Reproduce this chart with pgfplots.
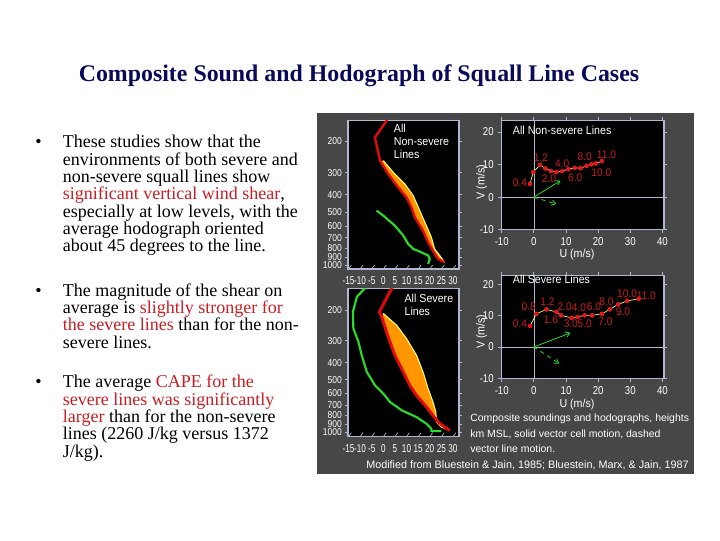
\documentclass[border=0pt]{standalone}
\usepackage{pgfplots}
\pgfplotsset{compat=1.18}
\usepackage{fontspec}
\setmainfont{Liberation Serif}
\setsansfont{Liberation Sans}
\newfontfamily\pf[FakeStretch=0.85]{Liberation Sans}
\newfontfamily\px[FakeStretch=0.72]{Liberation Sans}
\newfontfamily\pl[FakeStretch=0.92]{Liberation Sans}
\usetikzlibrary{arrows.meta}
\definecolor{navy}{RGB}{10,10,90}
\definecolor{hred}{RGB}{200,30,35}
\definecolor{panel}{RGB}{71,71,71}
\definecolor{frm}{RGB}{176,184,208}
\definecolor{sred}{RGB}{225,10,10}
\definecolor{sorange}{RGB}{255,150,0}
\definecolor{syellow}{RGB}{255,255,120}
\definecolor{sgreen}{RGB}{40,220,40}
\definecolor{hodored}{RGB}{225,25,25}
\pgfplotsset{
  panelaxis/.style={
    scale only axis, anchor=south west,
    axis background/.style={fill=black},
    axis line style={frm, line width=0.8pt},
    tick style={frm, line width=0.6pt},
    ticklabel style={font=\pf\fontsize{8.5}{9}\selectfont, text=white},
    /pgf/number format/assume math mode=true,
  },
  skewt/.style={panelaxis,
    xmin=-15.2, xmax=32.6,
    ytick={200,300,400,500,600,700,800,900,1000},
    yticklabels={200,300,400,500,600,700,800,900,1000},
    xtick={-15,-10,...,30},
    tick align=outside, major tick length=2.5pt,
    minor tick num=0,
    xtick style={draw=none},
    xticklabel style={inner xsep=0pt, font=\px\fontsize{8.5}{9}\selectfont},
    yticklabel style={inner ysep=0pt, inner xsep=2pt, font=\pf\fontsize{7.5}{7.5}\selectfont},
  },
  hodo/.style={panelaxis, xmin=-10, xmax=40.5, ymin=-10,
    xtick={-10,0,...,40}, ytick={-10,0,10,20},
    tick align=outside, major tick length=2.5pt,
  },
}
\begin{document}
\begin{tikzpicture}
\fill[white] (0,0) rectangle (540pt,-405pt);
\begin{scope}[x=0.75pt,y=-0.75pt]
\fill[panel] (317,112.7) rectangle (694,474);
\end{scope}

% ---------- top skew-T (non-severe)
\begin{axis}[ymode=log, y dir=reverse, skewt, at={(261pt,-201.75pt)}, width=83.25pt, height=111.2pt, ymin=153, ymax=1050]
\addplot[fill=sorange, draw=none] coordinates {
(-1.4,257) (2.1,305) (6.4,363) (10,414) (12.1,471) (13.6,536) (17.1,638) (19.3,742) (21.4,827) (23.6,921) (26.4,962)
(24.3,882) (22.1,809) (20.7,695) (17.9,572) (15.7,492) (12.9,405) (9.3,348) (4.3,299) (0,257)} -- cycle;
\addplot[syellow, line width=0.8pt] coordinates {
(0,257) (4.3,299) (9.3,348) (12.9,405) (15.7,492) (17.9,572) (20.7,695) (22.1,809) (24.3,882) (26.4,962)};
\addplot[sred, line width=1.8pt] coordinates {
(2.2,140) (1.4,153) (-3.6,190) (-1.4,257) (2.1,305) (6.4,363) (10,414) (12.1,471) (13.6,536) (17.1,638) (19.3,742) (21.4,827) (23.6,921) (26.4,962)};
\addplot[sgreen, line width=1.6pt] coordinates {
(-2.9,492) (0,525) (5,598) (8.6,680) (10.7,758) (12.9,809) (16.4,845) (19.3,882) (20,921) (19.3,983)};
\pgfplotsinvokeforeach{-15,-10,...,30}{\draw[frm, line width=0.5pt] (axis cs:#1,1050) -- ++(2.2pt,3pt);}
\end{axis}

% ---------- bottom skew-T (severe)
\begin{axis}[ymode=log, y dir=reverse, skewt, at={(261pt,-327.5pt)}, width=83.25pt, height=111.3pt, ymin=150, ymax=1062]
\addplot[fill=sorange, draw=none] coordinates {
(-0.7,218) (2.1,285) (5,363) (8.6,452) (11.4,539) (14.3,616) (18.6,718) (21.4,802) (23.6,876) (26.4,936) (28.6,978)
(25,936) (22.9,876) (22.6,767) (21.4,672) (19.3,564) (17.1,452) (14.3,363) (10,291) (5.7,244) (0,209)} -- cycle;
\addplot[syellow, line width=0.8pt] coordinates {
(0,209) (5.7,244) (10,291) (14.3,363) (17.1,452) (19.3,564) (21.4,672) (22.6,767) (22.9,876) (25,936) (28.6,978)};
\addplot[sred, line width=2.2pt] coordinates {
(4.2,140) (3.6,150) (-1.7,205) (-0.7,218) (2.1,285) (5,363) (8.6,452) (11.4,539) (14.3,616) (18.6,718) (21.4,802) (23.6,876) (26.4,936) (28.6,978)};
\addplot[sgreen, line width=1.6pt] coordinates {
(-7.2,140) (-7.9,150) (-11.4,168) (-13.1,205) (-12.9,255) (-10.7,304) (-9.3,363) (-7.1,452) (-3.6,539) (0,602) (2.9,672) (7.9,750) (14.3,820) (18.6,896) (20.7,957) (20.7,987) (25,987)};
\pgfplotsinvokeforeach{-15,-10,...,30}{\draw[frm, line width=0.5pt] (axis cs:#1,1062) -- ++(2.2pt,3pt);}
\end{axis}

% ---------- top hodograph (non-severe)
\begin{axis}[hodo, at={(376.3pt,-172.3pt)}, width=121.7pt, height=82.05pt, ymax=23.6]
\draw[frm, line width=0.4pt] (axis cs:0,-10) -- (axis cs:0,23.6);
\draw[frm, line width=0.4pt] (axis cs:-10,0) -- (axis cs:40.5,0);
\addplot[syellow, line width=0.5pt, mark=*, mark size=1.5pt, mark options={draw=hodored, fill=hodored}] coordinates {
(-1.2,4.1) (-0.2,7.7) (1.9,9.9) (3.6,8.8) (5.3,8.0) (7.0,7.7) (8.8,8.0) (10.7,8.6) (12.7,9.0) (14.5,8.9) (16.4,9.6) (17.9,10.1) (19.3,10.4) (21.2,11.1)};
\addplot[sgreen, line width=0.6pt, -{Straight Barb[length=3pt,width=4pt]}] coordinates {(0,0) (8.3,5.1)};
\addplot[sgreen, line width=0.6pt, dashed, -{Straight Barb[length=3pt,width=4pt]}] coordinates {(0,0) (7,-2.1)};
\begin{scope}[every node/.style={text=hred, font=\pl\fontsize{8.3}{8}\selectfont, inner sep=0pt}]
\node at (axis cs:-4.3,4.4) {0.4};
\node at (axis cs:2.2,12.2) {1.2};
\node at (axis cs:4.7,5.7) {2.0};
\node at (axis cs:8.8,10.4) {4.0};
\node at (axis cs:12.9,6.0) {6.0};
\node at (axis cs:15.8,12.5) {8.0};
\node at (axis cs:21,7.5) {10.0};
\node at (axis cs:22.6,13.2) {11.0};
\end{scope}
\end{axis}

% ---------- bottom hodograph (severe)
\begin{axis}[hodo, at={(376.3pt,-283.7pt)}, width=121.7pt, height=77.25pt, ymax=22.9]
\draw[frm, line width=0.4pt] (axis cs:0,-10) -- (axis cs:0,22.9);
\draw[frm, line width=0.4pt] (axis cs:-10,0) -- (axis cs:40.5,0);
\addplot[syellow, line width=0.5pt, mark=*, mark size=1.5pt, mark options={draw=hodored, fill=hodored}] coordinates {
(-1.2,6.7) (0.8,10.6) (3.9,12.0) (7.0,11.2) (8.4,10.1) (11.7,9.3) (13.6,9.6) (15.8,10.1) (18.1,10.1) (21.2,10.6) (23.6,12.0) (26.2,13.6) (29,14.7) (32.6,15.4)};
\addplot[sgreen, line width=0.6pt, -{Straight Barb[length=3pt,width=4pt]}] coordinates {(0,0) (11.4,4.5)};
\addplot[sgreen, line width=0.6pt, dashed, -{Straight Barb[length=3pt,width=4pt]}] coordinates {(0,0) (7.9,-5.3)};
\begin{scope}[every node/.style={text=hred, font=\pl\fontsize{8.3}{8}\selectfont, inner sep=0pt}]
\node at (axis cs:-4.3,7.4) {0.4};
\node at (axis cs:-1.6,13) {0.8};
\node at (axis cs:4.2,14.4) {1.2};
\node at (axis cs:5.3,8.7) {1.6};
\node at (axis cs:9.6,12.8) {2.0};
\node at (axis cs:14,12.6) {4.0};
\node at (axis cs:18.7,12.8) {6.0};
\node at (axis cs:11.5,7.4) {3.0};
\node at (axis cs:15.8,7.4) {5.0};
\node at (axis cs:22.3,8.0) {7.0};
\node at (axis cs:22.6,14.5) {8.0};
\node at (axis cs:27.7,11.2) {9.0};
\node at (axis cs:29,17) {10.0};
\node at (axis cs:35,16.5) {11.0};
\end{scope}
\end{axis}

% ---------- texts
\begin{scope}[x=0.75pt,y=-0.75pt]
\node[anchor=base, text=navy, inner sep=0pt, font=\bfseries\fontsize{17.9}{20}\selectfont] at (359,81.7) {Composite Sound and Hodograph of Squall Line Cases};
\begin{scope}[every node/.style={anchor=base west, inner sep=0pt, font=\fontsize{13.5}{13}\selectfont}]
\node at (35,147.7) {•};
\node at (62.7,147.7) {\parbox[t]{220pt}{\fontsize{13.5}{13}\selectfont These studies show that the\\
environments of both severe and\\
non-severe squall lines show\\
{\color{hred}significant vertical wind shear},\\
especially at low levels, with the\\
average hodograph oriented\\
about 45 degrees to the line.}};
\node at (35,296) {•};
\node at (62.7,296) {\parbox[t]{220pt}{\fontsize{13.5}{13}\selectfont The magnitude of the shear on\\
average is {\color{hred}slightly stronger for}\\
{\color{hred}the severe lines} than for the non-\\
severe lines.}};
\node at (35,387.7) {•};
\node at (62.7,387.7) {\parbox[t]{220pt}{\fontsize{13.5}{13}\selectfont The average {\color{hred}CAPE for the}\\
{\color{hred}severe lines was significantly}\\
{\color{hred}larger} than for the non-severe\\
lines (2260 J/kg versus 1372\\
J/kg).}};
\end{scope}
\begin{scope}[every node/.style={text=white, inner sep=0pt, font=\pl\fontsize{8.7}{9.75}\selectfont}]
\node[anchor=base west] at (393.7,132.7) {\parbox[t]{60pt}{\fontsize{8.7}{9.75}\selectfont All\\Non-severe\\Lines}};
\node[anchor=base west] at (404.3,302) {\parbox[t]{60pt}{\fontsize{8.7}{9.75}\selectfont All Severe\\Lines}};
\node[anchor=west] at (512.7,130.3) {All Non-severe Lines};
\node[anchor=west] at (512.7,279.3) {All Severe Lines};
\node at (577,254.7) {U (m/s)};
\node at (577,404) {U (m/s)};
\node[rotate=90] at (481.7,182) {V (m/s)};
\node[rotate=90] at (481.7,331.7) {V (m/s)};
\end{scope}
\begin{scope}[every node/.style={text=white, inner sep=0pt, anchor=base west, font=\sffamily\fontsize{7.85}{9}\selectfont}]
\node at (470,421) {Composite soundings and hodographs, heights};
\node at (470,437) {km MSL, solid vector cell motion, dashed};
\node at (470,452.5) {vector line motion.};
\node[font=\sffamily\fontsize{8.1}{9}\selectfont] at (366,468.5) {Modified from Bluestein \& Jain, 1985; Bluestein, Marx, \& Jain, 1987};
\end{scope}
\end{scope}
\pgfresetboundingbox
\useasboundingbox (0,0) rectangle (540pt,-405pt);
\end{tikzpicture}
\end{document}
